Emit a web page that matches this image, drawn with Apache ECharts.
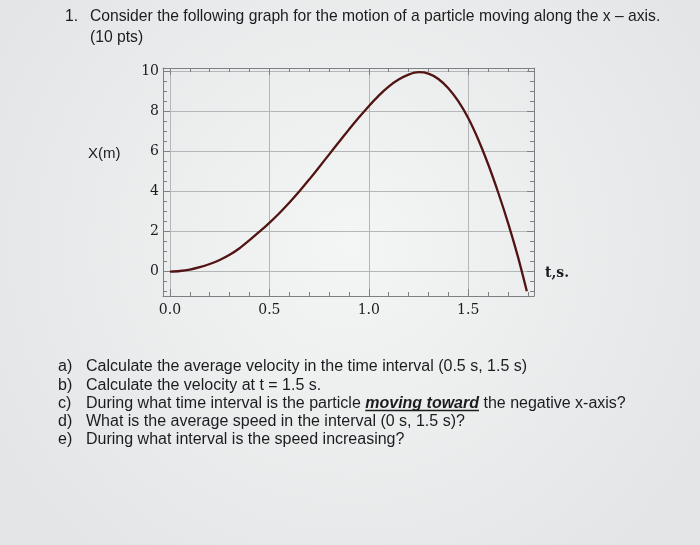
<!DOCTYPE html>
<html><head><meta charset="utf-8">
<script src="https://cdn.jsdelivr.net/npm/echarts@6/dist/echarts.min.js"></script>
<style>html,body{margin:0;padding:0;background:#eceeef}#c{width:700px;height:545px}</style>
</head><body><div id="c"></div>
<script>
// ---- data ----
const timeValues =     [0, 0.05, 0.1, 0.15, 0.2, 0.25, 0.3, 0.35, 0.4, 0.45, 0.5, 0.55, 0.6, 0.65, 0.7, 0.75, 0.8, 0.85, 0.9, 0.95, 1.0, 1.05, 1.1, 1.15, 1.2, 1.25, 1.3, 1.35, 1.4, 1.45, 1.5, 1.55, 1.6, 1.65, 1.7, 1.75, 1.795];
const positionValues = [0, 0.03, 0.1, 0.22, 0.38, 0.58, 0.84, 1.17, 1.57, 2.0, 2.44, 2.92, 3.44, 4.0, 4.6, 5.22, 5.85, 6.48, 7.1, 7.7, 8.27, 8.8, 9.25, 9.6, 9.85, 9.97, 9.9, 9.63, 9.17, 8.52, 7.68, 6.62, 5.38, 3.98, 2.45, 0.75, -0.98];
const xTickValues = [0, 0.5, 1.0, 1.5];
const yTickValues = [0, 2, 4, 6, 8, 10];
const xMinorTickValues = [0.1, 0.2, 0.3, 0.4, 0.6, 0.7, 0.8, 0.9, 1.1, 1.2, 1.3, 1.4, 1.6, 1.7, 1.8];
const yMinorTickValues = [-1, -0.5, 0.5, 1, 1.5, 2.5, 3, 3.5, 4.5, 5, 5.5, 6.5, 7, 7.5, 8.5, 9, 9.5];
const titleLines = ['Consider the following graph for the motion of a particle moving along the x \u2013 axis.', '(10 pts)'];
const questionLetters = ['a)', 'b)', 'c)', 'd)', 'e)'];
const questionTexts = [
  'Calculate the average velocity in the time interval (0.5 s, 1.5 s)',
  'Calculate the velocity at t = 1.5 s.',
  ['During what time interval is the particle ', 'moving toward', ' the negative x-axis?'],
  'What is the average speed in the interval (0 s, 1.5 s)?',
  'During what interval is the speed increasing?'
];

const SANS = "'Liberation Sans', Arial, Helvetica, sans-serif";
const SERIF = "'DejaVu Serif', 'Liberation Serif', serif";
const TXT = '#1c1c1e';
const FRAME = '#7d7f82';
const GRIDC = '#b4b6b8';
const xMin = -0.035, xMax = 1.831, yMin = -1.22, yMax = 10.18;

function xAxisDef(pos, major) {
  return {
    type: 'value', position: pos, min: xMin, max: xMax,
    axisLine: { show: major, onZero: false, lineStyle: { color: FRAME, width: 1 } },
    axisTick: { show: true, inside: true, length: major ? 7 : 4, customValues: major ? xTickValues : xMinorTickValues, lineStyle: { color: FRAME } },
    axisLabel: (major && pos === 'bottom') ? { show: true, customValues: xTickValues, formatter: v => v.toFixed(1), margin: 7, fontFamily: SERIF, fontSize: 14, color: TXT } : { show: false },
    splitLine: { show: major && pos === 'bottom', lineStyle: { color: GRIDC, width: 1 } }
  };
}
function yAxisDef(pos, major) {
  return {
    type: 'value', position: pos, min: yMin, max: yMax,
    axisLine: { show: major, onZero: false, lineStyle: { color: FRAME, width: 1 } },
    axisTick: { show: true, inside: true, length: major ? 7 : 4, customValues: major ? yTickValues : yMinorTickValues, lineStyle: { color: FRAME } },
    axisLabel: (major && pos === 'left') ? { show: true, customValues: yTickValues, margin: 4, fontFamily: SERIF, fontSize: 14, color: TXT } : { show: false },
    splitLine: { show: major && pos === 'left', lineStyle: { color: GRIDC, width: 1 } }
  };
}

// measure text to place underline
const ctx = document.createElement('canvas').getContext('2d');
function measure(str, font) { ctx.font = font; return ctx.measureText(str).width; }

const qX = 86, qLetterX = 58;
const qYs = [367, 385.5, 404, 422, 440];
const QFONT = '16px ' + SANS;
const QFONT_B = 'italic bold 16px ' + SANS;
const TFONT = '15.7px ' + SANS;

const graphics = [];
graphics.push({ type: 'text', x: 65, y: 17, style: { text: '1.', font: TFONT, fill: TXT, verticalAlign: 'middle' } });
graphics.push({ type: 'text', x: 90, y: 17, style: { text: titleLines[0], font: TFONT, fill: TXT, verticalAlign: 'middle' } });
graphics.push({ type: 'text', x: 90, y: 38, style: { text: titleLines[1], font: TFONT, fill: TXT, verticalAlign: 'middle' } });
graphics.push({ type: 'text', x: 88, y: 154, style: { text: 'X(m)', font: '15px ' + SANS, fill: TXT, verticalAlign: 'middle' } });
graphics.push({ type: 'text', x: 545, y: 273, style: { text: 't,s.', font: 'bold 14px ' + SERIF, fill: TXT, verticalAlign: 'middle' } });

questionLetters.forEach((l, i) => {
  graphics.push({ type: 'text', x: qLetterX, y: qYs[i], style: { text: l, font: QFONT, fill: TXT, verticalAlign: 'middle' } });
  const q = questionTexts[i];
  if (Array.isArray(q)) {
    graphics.push({ type: 'text', x: qX, y: qYs[i], style: {
      text: q[0] + '{em|' + q[1] + '}' + q[2], font: QFONT, fill: TXT, verticalAlign: 'middle',
      rich: { em: { fontStyle: 'italic', fontWeight: 'bold', fontSize: 16, fontFamily: SANS, fill: TXT } }
    } });
    const x0 = qX + measure(q[0], QFONT);
    const w = measure(q[1], QFONT_B);
    graphics.push({ type: 'line', shape: { x1: x0, y1: qYs[i] + 6.5, x2: x0 + w, y2: qYs[i] + 6.5 }, style: { stroke: TXT, lineWidth: 1.3 } });
  } else {
    graphics.push({ type: 'text', x: qX, y: qYs[i], style: { text: q, font: QFONT, fill: TXT, verticalAlign: 'middle' } });
  }
});

const chart = echarts.init(document.getElementById('c'), null, { renderer: 'canvas' });
chart.setOption({
  animation: false,
  backgroundColor: { type: 'radial', x: 0.5, y: 0.45, r: 0.75, colorStops: [{ offset: 0, color: '#f4f5f5' }, { offset: 1, color: '#e3e5e6' }] },
  grid: { left: 163, right: 166, top: 68, bottom: 249, containLabel: false },
  xAxis: [xAxisDef('bottom', true), xAxisDef('bottom', false), xAxisDef('top', true), xAxisDef('top', false)],
  yAxis: [yAxisDef('left', true), yAxisDef('left', false), yAxisDef('right', true), yAxisDef('right', false)],
  series: [{
    type: 'line', xAxisIndex: 0, yAxisIndex: 0,
    data: timeValues.map((t, i) => [t, positionValues[i]]),
    smooth: 0.3, showSymbol: false, clip: true,
    lineStyle: { color: '#521313', width: 2.3 }
  }],
  graphic: graphics
});
</script></body></html>
